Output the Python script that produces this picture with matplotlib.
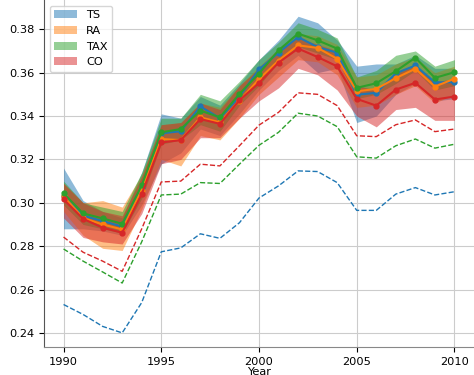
import numpy as np
import matplotlib
matplotlib.use("Agg")
import matplotlib.pyplot as plt

years = list(range(1990, 2011))
labels = ["TS", "RA", "TAX", "CO"]
colors = ["tab:blue", "tab:orange", "tab:green", "tab:red"]

# mean area under PR curve per method
ts_mean = [0.303, 0.294, 0.2916, 0.289, 0.307, 0.332, 0.333, 0.3444, 0.339, 0.349, 0.3615,
           0.3692, 0.3764, 0.3718, 0.3692, 0.3498, 0.3507, 0.3597, 0.3633, 0.3555, 0.3556]
ts_lo = [0.288, 0.288, 0.287, 0.285, 0.299, 0.318, 0.323, 0.334, 0.331, 0.341, 0.352,
         0.361, 0.368, 0.360, 0.362, 0.337, 0.340, 0.350, 0.355, 0.347, 0.348]
ts_hi = [0.316, 0.301, 0.296, 0.293, 0.314, 0.341, 0.339, 0.349, 0.345, 0.355, 0.366,
         0.375, 0.386, 0.383, 0.375, 0.363, 0.364, 0.364, 0.368, 0.362, 0.362]

ra_mean = [0.303, 0.293, 0.290, 0.2877, 0.306, 0.3294, 0.3289, 0.3394, 0.3371, 0.3471, 0.357,
           0.3656, 0.3726, 0.3714, 0.3664, 0.3514, 0.3525, 0.3575, 0.3618, 0.3536, 0.3572]
ra_lo = [0.296, 0.285, 0.279, 0.278, 0.297, 0.320, 0.317, 0.331, 0.329, 0.339, 0.350,
         0.358, 0.366, 0.365, 0.359, 0.344, 0.345, 0.350, 0.354, 0.346, 0.350]
ra_hi = [0.309, 0.300, 0.301, 0.298, 0.313, 0.336, 0.337, 0.346, 0.344, 0.354, 0.363,
         0.371, 0.378, 0.377, 0.373, 0.358, 0.359, 0.364, 0.367, 0.360, 0.363]

tax_mean = [0.3044, 0.2951, 0.2928, 0.2903, 0.308, 0.3325, 0.334, 0.3425, 0.3394, 0.3502, 0.3596,
            0.3703, 0.378, 0.3749, 0.3711, 0.353, 0.3551, 0.3607, 0.3669, 0.3576, 0.3602]
tax_lo = [0.299, 0.290, 0.288, 0.286, 0.302, 0.327, 0.329, 0.336, 0.333, 0.345, 0.354,
          0.365, 0.372, 0.369, 0.366, 0.348, 0.350, 0.355, 0.361, 0.352, 0.354]
tax_hi = [0.310, 0.300, 0.298, 0.296, 0.314, 0.339, 0.339, 0.350, 0.347, 0.356, 0.366,
          0.374, 0.383, 0.380, 0.376, 0.358, 0.361, 0.368, 0.370, 0.363, 0.366]

co_mean = [0.3016, 0.2926, 0.2885, 0.2862, 0.304, 0.3278, 0.3289, 0.3386, 0.3364, 0.3473, 0.3552,
           0.3646, 0.3711, 0.3672, 0.3629, 0.3479, 0.3448, 0.3522, 0.3553, 0.3476, 0.349]
co_lo = [0.293, 0.284, 0.282, 0.281, 0.295, 0.318, 0.320, 0.330, 0.330, 0.339, 0.347,
         0.353, 0.362, 0.359, 0.352, 0.340, 0.335, 0.343, 0.344, 0.338, 0.338]
co_hi = [0.309, 0.300, 0.296, 0.294, 0.312, 0.336, 0.337, 0.346, 0.343, 0.354, 0.362,
         0.371, 0.376, 0.373, 0.370, 0.354, 0.352, 0.360, 0.363, 0.356, 0.357]

# dashed baselines
base_blue = [0.2531, 0.2485, 0.243, 0.240, 0.2540, 0.2774, 0.2792, 0.2857, 0.2836, 0.2908, 0.3022,
             0.3078, 0.3147, 0.3144, 0.3093, 0.2965, 0.2965, 0.304, 0.307, 0.3036, 0.3051]
base_green = [0.2787, 0.2731, 0.2681, 0.263, 0.282, 0.3036, 0.304, 0.3093, 0.3089, 0.3178, 0.3265,
              0.3325, 0.3413, 0.340, 0.3351, 0.3212, 0.3206, 0.3263, 0.3294, 0.3252, 0.327]
base_red = [0.2842, 0.2772, 0.2731, 0.2684, 0.288, 0.3096, 0.310, 0.3178, 0.317, 0.3263, 0.3358,
            0.3417, 0.3507, 0.350, 0.3448, 0.3309, 0.3305, 0.336, 0.3382, 0.3328, 0.334]

means = [ts_mean, ra_mean, tax_mean, co_mean]
los = [ts_lo, ra_lo, tax_lo, co_lo]
his = [ts_hi, ra_hi, tax_hi, co_hi]

plt.rcParams['font.size'] = 8.2

fig = plt.figure(figsize=(4.74, 3.75), dpi=100)
ax = fig.add_axes([44 / 474, 28 / 375, 430 / 474, 347 / 375])

# baselines
ax.plot(years, base_blue, '--', color='tab:blue', lw=1.0)
ax.plot(years, base_green, '--', color='tab:green', lw=1.0)
ax.plot(years, base_red, '--', color='tab:red', lw=1.0)

handles = []
for m, lo, hi, c, lab in zip(means, los, his, colors, labels):
    h = ax.fill_between(years, lo, hi, color=c, alpha=0.5, lw=0, label=lab)
    handles.append(h)
for m, c in zip(means, colors):
    ax.plot(years, m, '-o', color=c, lw=1.5, ms=3.5)

ax.set_xlim(1989, 2011)
ax.set_ylim(0.2335, 0.3935)
ax.set_xticks([1990, 1995, 2000, 2005, 2010])
ax.set_yticks([0.24, 0.26, 0.28, 0.30, 0.32, 0.34, 0.36, 0.38])
ax.grid(True, color='#cccccc', lw=0.8)
ax.set_axisbelow(True)
ax.spines['top'].set_visible(False)
ax.spines['right'].set_visible(False)
ax.spines['left'].set_color('#555555')
ax.spines['bottom'].set_color('#888888')
ax.set_xlabel("Year", labelpad=0)
ax.set_ylabel("Area under PR curve")
ax.legend(handles=handles, loc='upper left', fontsize=8.2)

fig.savefig("out.png", dpi=100)
